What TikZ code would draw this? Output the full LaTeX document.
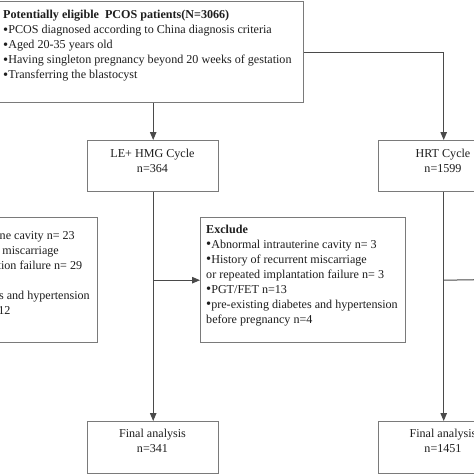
\documentclass[tikz,border=0pt]{standalone}
\usepackage{fontspec}
\setmainfont{Liberation Serif}
\usetikzlibrary{arrows.meta,calc}
\definecolor{boxgray}{HTML}{7A7A7A}
\definecolor{linegray}{HTML}{4A4A4A}
\definecolor{txtcol}{HTML}{1E1E1E}
\tikzset{
  box/.style={draw=boxgray, line width=1.4pt, rectangle, inner sep=0pt, fill=white},
  txt/.style={font=\fontsize{12.1}{15}\selectfont, text=txtcol, align=left, inner sep=0pt, anchor=north west},
  ctxt/.style={font=\fontsize{12.1}{15}\selectfont, text=txtcol, align=center, inner sep=0pt},
  conn/.style={draw=linegray, line width=1pt},
  arr/.style={conn, -{Triangle[length=8pt,width=6.5pt]}}
}
\newcommand{\bul}{\raisebox{-0.12ex}{\scalebox{1.2}{\textbullet}}}
\begin{document}
\begin{tikzpicture}[x=1pt,y=-1pt]
\useasboundingbox (0,0) rectangle (474,474);
\clip (0,0) rectangle (474,474);
\fill[white] (0,0) rectangle (474,474);
% boxes
\node[box, minimum width=309pt, minimum height=101pt, anchor=north west] (top) at (-6,0.8) {};
\node[box, minimum width=131pt, minimum height=51pt, anchor=north west] (le) at (87,140) {};
\node[box, minimum width=130pt, minimum height=51pt, anchor=north west] (hrt) at (378,140) {};
\node[box, minimum width=205pt, minimum height=125pt, anchor=north west] (exl) at (-108,217) {};
\node[box, minimum width=205pt, minimum height=125pt, anchor=north west] (exm) at (200,217) {};
\node[box, minimum width=131pt, minimum height=52pt, anchor=north west] (fin1) at (87,421) {};
\node[box, minimum width=130pt, minimum height=52pt, anchor=north west] (fin2) at (378,421) {};
% texts
\node[txt] (toptxt) at (3,10) {\textbf{Potentially eligible\ \ PCOS patients(N=3066)}\\
\bul PCOS diagnosed according to China diagnosis criteria\\
\bul Aged 20-35 years old\\
\bul Having singleton pregnancy beyond 20 weeks of gestation\\
\bul Transferring the blastocyst};
\node[ctxt] (letxt) at (152.5,160.5) {LE+ HMG Cycle\\n=364};
\node[ctxt] (hrttxt) at (443,160.5) {HRT Cycle\\n=1599};
\node[ctxt] (f1txt) at (152.5,441) {Final analysis\\n=341};
\node[ctxt] (f2txt) at (443,441) {Final analysis\\n=1451};
\node[txt] (exmtxt) at (206,224.5) {\textbf{Exclude}\\
\bul Abnormal intrauterine cavity n= 3\\
\bul History of recurrent miscarriage\\
or repeated implantation failure n= 3\\
\bul PGT/FET n=13\\
\bul pre-existing diabetes and hypertension\\
before pregnancy n=4};
\node[txt] (exltxt) at (-102,224.5) {\mbox{}\\
\bul Abnormal intrauterine cavity n= 23\\
\bul History of recurrent miscarriage\\
or repeated implantation failure n= 29\\
\mbox{}\\
\bul pre-existing diabetes and hypertension\\
before pregnancy n=12};
% connectors
\coordinate (rx) at (490,279.5);
\draw[arr] (top.south -| le.north) -- (le.north);
\draw[arr] (top.east |- 0,52) -| (hrt.north);
\draw[arr] (le.south) -- (fin1.north);
\draw[arr] (le.south |- exm.west) -- (exm.west);
\draw[arr] (hrt.south) -- (fin2.north);
\draw[conn] (hrt.south |- exm.west) -- (rx);
\end{tikzpicture}
\end{document}
